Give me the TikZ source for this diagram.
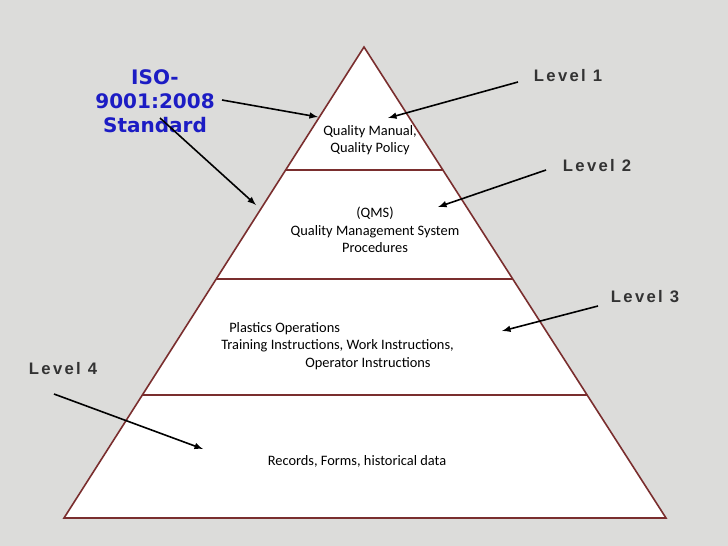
\documentclass[tikz,border=0pt]{standalone}
\usepackage{fontspec}
\setmainfont{Carlito}
\newfontfamily\lvlfont[LetterSpace=14]{Liberation Sans}
\newfontfamily\isofont{DejaVu Sans}
\definecolor{bg}{HTML}{DCDCDA}
\definecolor{pyr}{HTML}{7A2E2E}
\definecolor{isoblue}{HTML}{1C1CC4}
\begin{document}
\begin{tikzpicture}[x=0.75pt,y=-0.75pt,
  body/.style={font=\fontsize{10.8}{13}\selectfont,align=center,inner sep=0pt},
  lvl/.style={font=\lvlfont\bfseries\fontsize{12.5}{14}\selectfont,text=black!80,inner sep=0pt},
  arr/.style={-latex,line width=1.2pt,black}]
\fill[bg] (0,0) rectangle (728,546);
\useasboundingbox (0,0) rectangle (728,546);
% pyramid
\coordinate (A) at (364,47);
\coordinate (BL) at (64,518);
\coordinate (BR) at (666,518);
\fill[white] (A)--(BL)--(BR)--cycle;
\foreach \y in {170,279,395}{
  \draw[pyr,line width=1.2pt] ({364-0.6369*(\y-47)},\y) -- ({364+0.6412*(\y-47)},\y);}
\draw[pyr,line width=1.2pt,line join=miter] (A)--(BL)--(BR)--cycle;
% texts
\node[body] (t1) at (370,140) {Quality Manual,\\Quality Policy};
\node[body] (t2) at (375,230) {(QMS)\\Quality Management System\\Procedures};
\node[body,align=left,anchor=west] (t3) at (221,346) {\hspace*{6pt}Plastics Operations\\Training Instructions, Work Instructions,\\\hspace*{63pt}Operator Instructions};
\node[body] (t4) at (357,461) {Records, Forms, historical data};
% labels
\node[font=\isofont\bfseries\fontsize{15}{18}\selectfont,text=isoblue,align=center,inner sep=0pt] (iso) at (155,101) {ISO-\\9001:2008\\Standard};
\node[lvl] (l1) at (568,76) {Level 1};
\node[lvl] (l2) at (597,166) {Level 2};
\node[lvl] (l3) at (645,297) {Level 3};
\node[lvl] (l4) at (63,369) {Level 4};
% arrows
\coordinate (ia) at (222,100); \coordinate (ib) at (160,118);
\coordinate (p1) at (318,117); \coordinate (p2) at (256,205);
\draw[arr] (ia) -- (p1);
\draw[arr] (ib) -- (p2);
\coordinate (a1) at (518,82); \coordinate (b1) at (388,118);
\coordinate (a2) at (546,170); \coordinate (b2) at (438,207);
\coordinate (a3) at (598,306); \coordinate (b3) at (502,331);
\coordinate (a4) at (54,394); \coordinate (b4) at (203,449);
\draw[arr] (a1) -- (b1);
\draw[arr] (a2) -- (b2);
\draw[arr] (a3) -- (b3);
\draw[arr] (a4) -- (b4);
\end{tikzpicture}
\end{document}
